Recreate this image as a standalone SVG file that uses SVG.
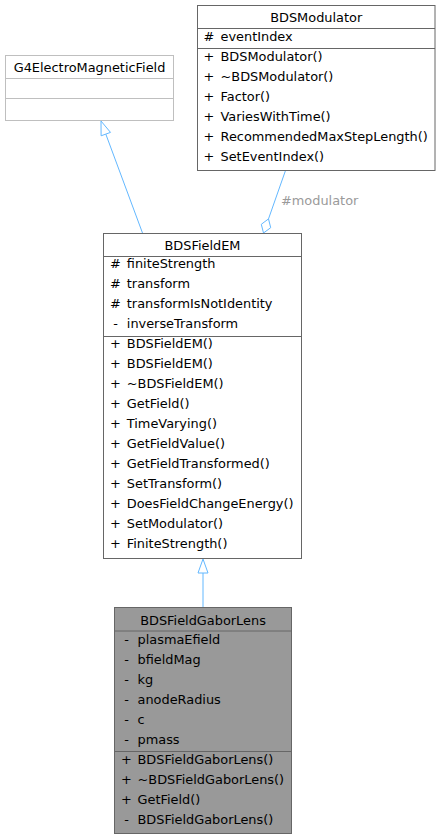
<svg xmlns="http://www.w3.org/2000/svg" width="440" height="839" viewBox="0 0 440 839">
<style>
text{font-family:"DejaVu Sans","Liberation Sans",sans-serif;font-size:12.9px;fill:#000}
.t{text-anchor:middle}
.s{text-anchor:middle}
.box{fill:#fff;stroke:#666;stroke-width:1}
.ext{fill:#fff;stroke:#bfbfbf;stroke-width:1}
.cur{fill:#999;stroke:#666;stroke-width:1}
.dv{stroke:#666;stroke-width:1}
.dve{stroke:#bfbfbf;stroke-width:1}
.edge{stroke:#63b8ff;stroke-width:1;fill:none}
.head{stroke:#63b8ff;stroke-width:1;fill:#fff}
.lbl{fill:#9a9a9a}
</style>
<rect width="440" height="839" fill="#fff"/>
<g id="edges">
<path class="edge" d="M142.5,233 L105.8,134.1"/>
<polygon class="head" points="101,121 110.5,132.4 101.1,135.8"/>
<path class="edge" d="M268.5,218.9 L285.5,170.5"/>
<polygon class="head" points="263.5,233 261.3,224.3 268.5,218.9 270.7,227.7"/>
<text class="lbl" x="281" y="205">#modulator</text>
<path class="edge" d="M203,607.5 L203,573"/>
<polygon class="head" points="203,559 208,573 198,573"/>
</g>
<g id="G4ElectroMagneticField">
<rect class="ext" x="5.5" y="55.5" width="168" height="65"/>
<line class="dve" x1="5.5" y1="78.5" x2="173.5" y2="78.5"/>
<line class="dve" x1="5.5" y1="98.5" x2="173.5" y2="98.5"/>
<text class="t" x="89.5" y="72">G4ElectroMagneticField</text>
</g>
<g id="BDSModulator">
<rect class="box" x="197.5" y="5.5" width="237.5" height="165"/>
<line class="dv" x1="197.5" y1="28.5" x2="435" y2="28.5"/>
<line class="dv" x1="197.5" y1="48.5" x2="435" y2="48.5"/>
<text class="t" x="316.2" y="22">BDSModulator</text>
<text class="s" x="209" y="40.5">#</text><text x="220.5" y="40.5">eventIndex</text>
<text class="s" x="209" y="60.5">+</text><text x="220.5" y="60.5">BDSModulator()</text>
<text class="s" x="209" y="80.5">+</text><text x="220.5" y="80.5">~BDSModulator()</text>
<text class="s" x="209" y="100.5">+</text><text x="220.5" y="100.5">Factor()</text>
<text class="s" x="209" y="120.5">+</text><text x="220.5" y="120.5">VariesWithTime()</text>
<text class="s" x="209" y="140.5">+</text><text x="220.5" y="140.5">RecommendedMaxStepLength()</text>
<text class="s" x="209" y="160.5">+</text><text x="220.5" y="160.5">SetEventIndex()</text>
</g>
<g id="BDSFieldEM">
<rect class="box" x="103.5" y="233.5" width="198" height="325"/>
<line class="dv" x1="103.5" y1="256.5" x2="301.5" y2="256.5"/>
<line class="dv" x1="103.5" y1="336.5" x2="301.5" y2="336.5"/>
<text class="t" x="202.5" y="250">BDSFieldEM</text>
<text class="s" x="115.5" y="268">#</text><text x="126.8" y="268">finiteStrength</text>
<text class="s" x="115.5" y="288">#</text><text x="126.8" y="288">transform</text>
<text class="s" x="115.5" y="308">#</text><text x="126.8" y="308">transformIsNotIdentity</text>
<text class="s" x="115.5" y="328">-</text><text x="126.8" y="328">inverseTransform</text>
<text class="s" x="115.5" y="348">+</text><text x="126.8" y="348">BDSFieldEM()</text>
<text class="s" x="115.5" y="368">+</text><text x="126.8" y="368">BDSFieldEM()</text>
<text class="s" x="115.5" y="388">+</text><text x="126.8" y="388">~BDSFieldEM()</text>
<text class="s" x="115.5" y="408">+</text><text x="126.8" y="408">GetField()</text>
<text class="s" x="115.5" y="428">+</text><text x="126.8" y="428">TimeVarying()</text>
<text class="s" x="115.5" y="448">+</text><text x="126.8" y="448">GetFieldValue()</text>
<text class="s" x="115.5" y="468">+</text><text x="126.8" y="468">GetFieldTransformed()</text>
<text class="s" x="115.5" y="488">+</text><text x="126.8" y="488">SetTransform()</text>
<text class="s" x="115.5" y="508">+</text><text x="126.8" y="508">DoesFieldChangeEnergy()</text>
<text class="s" x="115.5" y="528">+</text><text x="126.8" y="528">SetModulator()</text>
<text class="s" x="115.5" y="548">+</text><text x="126.8" y="548">FiniteStrength()</text>
</g>
<g id="BDSFieldGaborLens">
<rect class="cur" x="114.5" y="607.5" width="177" height="226"/>
<line class="dv" x1="114.5" y1="631" x2="291.5" y2="631"/>
<line class="dv" x1="114.5" y1="751.5" x2="291.5" y2="751.5"/>
<text class="t" x="203" y="624.5">BDSFieldGaborLens</text>
<text class="s" x="126.5" y="644">-</text><text x="137.5" y="644">plasmaEfield</text>
<text class="s" x="126.5" y="664">-</text><text x="137.5" y="664">bfieldMag</text>
<text class="s" x="126.5" y="684">-</text><text x="137.5" y="684">kg</text>
<text class="s" x="126.5" y="704">-</text><text x="137.5" y="704">anodeRadius</text>
<text class="s" x="126.5" y="724">-</text><text x="137.5" y="724">c</text>
<text class="s" x="126.5" y="744">-</text><text x="137.5" y="744">pmass</text>
<text class="s" x="126.5" y="764">+</text><text x="137.5" y="764">BDSFieldGaborLens()</text>
<text class="s" x="126.5" y="784">+</text><text x="137.5" y="784">~BDSFieldGaborLens()</text>
<text class="s" x="126.5" y="804">+</text><text x="137.5" y="804">GetField()</text>
<text class="s" x="126.5" y="824">-</text><text x="137.5" y="824">BDSFieldGaborLens()</text>
</g>
</svg>
